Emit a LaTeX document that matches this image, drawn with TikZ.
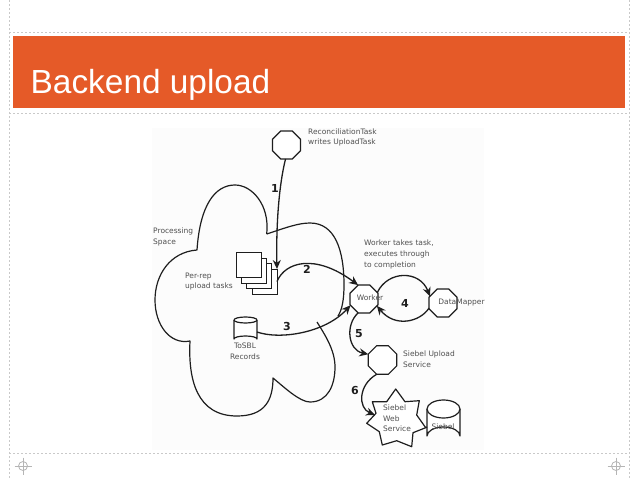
\documentclass[tikz,border=0pt]{standalone}
\usepackage{fontspec}
\setmainfont{DejaVu Sans}
\newfontfamily\titlefont{Liberation Sans}
\usetikzlibrary{shapes.geometric,arrows.meta}
\definecolor{slideorange}{HTML}{E55A28}
\definecolor{guide}{HTML}{C9C9C9}
\definecolor{ink}{HTML}{1E1E1E}
\definecolor{labelgray}{HTML}{505050}
\tikzset{
  guideline/.style={draw=guide,line width=0.8pt,dash pattern=on 2pt off 2pt},
  crossmark/.style={draw=guide!90!black,line width=0.8pt},
  outline/.style={draw=ink,line width=1.2pt,line join=round},
  octa/.style={regular polygon,regular polygon sides=8,draw=ink,line width=1.2pt,fill=white,minimum size=#1,inner sep=0pt,outer sep=0pt},
  sheet/.style={draw=ink,line width=0.8pt,fill=white,minimum size=25pt,inner sep=0pt,outer sep=0pt},
  flow/.style={draw=ink,line width=1.3pt,-{Stealth[length=9pt,width=8pt]}},
  txt/.style={font=\fontsize{7.5}{10.6}\selectfont,text=labelgray,inner sep=0pt,align=left},
  ctxt/.style={font=\fontsize{7.5}{10.6}\selectfont,text=labelgray,inner sep=0pt,align=center},
  num/.style={font=\fontsize{11}{12}\selectfont\bfseries,text=ink,inner sep=0pt},
}
\begin{document}
\begin{tikzpicture}[x=1pt,y=-1pt]
\useasboundingbox (0,0) rectangle (638,479);
\fill[white] (0,0) rectangle (638,479);
% slide guides
\draw[guideline] (9,0) -- (9,479);
\draw[guideline] (629.5,0) -- (629.5,479);
\draw[guideline] (9,32) -- (629.5,32);
\draw[guideline] (9,113) -- (629.5,113);
\draw[guideline] (9,453) -- (629.5,453);
\draw[crossmark] (23,466) circle (4.5);
\draw[crossmark] (14.5,466) -- (31.5,466) (23,457.5) -- (23,474.5);
\draw[crossmark] (616,466) circle (4.5);
\draw[crossmark] (607.5,466) -- (624.5,466) (616,457.5) -- (616,474.5);
% title band
\fill[slideorange] (13,36) rectangle (625,108);
\node[anchor=base west,inner sep=0pt,text=white,font=\titlefont\fontsize{33.4}{36}\selectfont] (title) at (30.5,93) {Backend upload};
% image background
\fill[black!1] (152,128) rectangle (484,450);
% cloud
\draw[outline] (266.7,234)
  .. controls (270,205) and (252,185) .. (235,185)
  .. controls (215,185) and (200,205) .. (197,250)
  .. controls (170,252) and (155,275) .. (155,300)
  .. controls (155,325) and (170,345) .. (190,341)
  .. controls (188,380) and (197,416) .. (237,416)
  .. controls (265,416) and (273,400) .. (273,378)
  .. controls (285,388) and (300,402) .. (310,402)
  .. controls (328,402) and (335,385) .. (335,367)
  .. controls (335,350) and (325,335) .. (317,322);
\draw[outline] (266.7,234)
  .. controls (285,228) and (298,223) .. (310,223)
  .. controls (335,223) and (344,250) .. (344,285)
  .. controls (344,300) and (342,310) .. (338,316);
% stacked tasks
\node[sheet,anchor=north west] (sheetD) at (252,269) {};
\node[sheet,anchor=north west] (sheetC) at (246.5,263.5) {};
\node[sheet,anchor=north west] (sheetB) at (241,258) {};
\node[sheet,anchor=north west] (sheetA) at (236,252) {};
% ToSBL cylinder
\draw[outline,fill=white] (234,320) -- (234,339) arc[start angle=180,end angle=360,x radius=11.5,y radius=3] -- (257,320);
\draw[outline,fill=white] (245.5,320) ellipse[x radius=11.5,y radius=3];
\coordinate (tosbl) at (257,332);
% Siebel cylinder
\draw[outline,fill=white] (427,409) -- (427,436) arc[start angle=180,end angle=360,x radius=16.5,y radius=9] -- (460,409);
\draw[outline,fill=white] (443.5,409) ellipse[x radius=16.5,y radius=9];
% star
\draw[outline,fill=white] (395.7,389) -- (405,401.7) -- (419.3,400.7) -- (416.7,415) -- (425.7,427.7) -- (413,432.7) -- (411.7,446.7) -- (396.7,440.7) -- (382.3,445) -- (379.3,431.7) -- (366.7,423.3) -- (376,413.3) -- (372.3,401.7) -- (386.7,401.7) -- cycle;
\draw[ink,line width=1.2pt] (425.7,427.7) -- (427,427);
\coordinate (starleft) at (375,415);
% octagons
\node[octa=30.3pt] (recon) at (286.5,145) {};
\node[octa=30.3pt] (worker) at (364,299) {};
\node[octa=30.3pt] (mapper) at (443,303) {};
\node[octa=30.8pt] (upload) at (382.5,360) {};
% connectors
\draw[flow] (recon.266) .. controls (279,185) and (276,225) .. (sheetD.north east);
\draw[flow] (sheetD.east) .. controls (285,262) and (315,253) .. (worker.113);
\draw[flow] (tosbl) .. controls (280,340) and (325,333) .. (worker.205);
\draw[flow] (worker.26) .. controls (388,270) and (420,270) .. (mapper.153);
\draw[flow] (mapper.200) .. controls (420,322) and (395,328) .. (worker.-28);
\draw[flow] (worker.247) .. controls (345,325) and (348,350) .. (upload.158);
\draw[flow] (upload.248) .. controls (358,385) and (358,408) .. (starleft);
% numbers
\node[num] (n1) at (275,188) {1};
\node[num] (n2) at (307,269) {2};
\node[num] (n3) at (287,326) {3};
\node[num] (n4) at (405,303) {4};
\node[num] (n5) at (359,334) {5};
\node[num] (n6) at (355,390) {6};
% labels
\node[txt,anchor=west] (t1) at (308,137.5) {ReconciliationTask\\writes UploadTask};
\node[txt,anchor=west] (t2) at (153,237) {Processing\\Space};
\node[txt,anchor=west] (t3) at (185,281.5) {Per-rep\\upload tasks};
\node[ctxt] (t4) at (245,351) {ToSBL\\Records};
\node[txt,anchor=west] (t5) at (364,254.5) {Worker takes task,\\executes through\\to completion};
\node[txt] (t6) at (370,298) {Worker};
\node[txt] (t7) at (461.5,303) {DataMapper};
\node[txt,anchor=west] (t8) at (403,359) {Siebel Upload\\Service};
\node[txt,anchor=west] (t9) at (383,418.5) {Siebel\\Web\\Service};
\node[txt] (t10) at (443,427) {Siebel};
\end{tikzpicture}
\end{document}
